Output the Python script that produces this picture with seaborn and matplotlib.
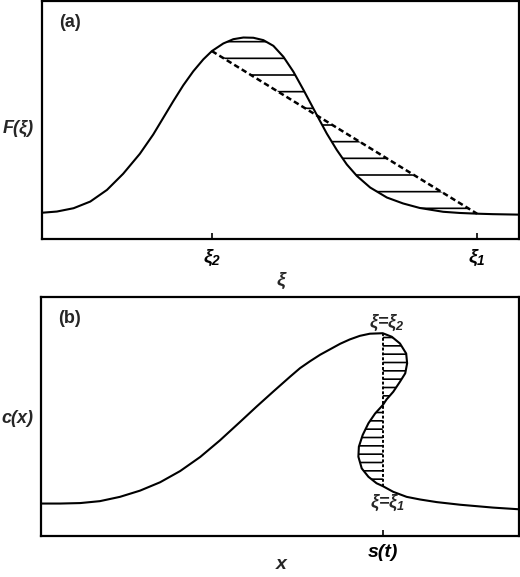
import matplotlib
matplotlib.use("Agg")
import matplotlib.pyplot as plt
import numpy as np
import seaborn as sns

# panel (a): F(xi) curve
xi_vals = [0.0, 0.31, 0.66, 1.01, 1.36, 1.70, 2.05, 2.33, 2.54, 2.75, 2.96, 3.17, 3.38,
           3.56, 3.80, 4.01, 4.22, 4.43, 4.64, 4.85, 5.06, 5.27, 5.48, 5.65, 5.79, 5.97,
           6.18, 6.39, 6.60, 6.88, 7.23, 7.57, 7.92, 8.41, 8.76, 9.12, 9.45, 10.0]
F_vals = [0.110, 0.115, 0.129, 0.157, 0.206, 0.274, 0.358, 0.439, 0.509, 0.579, 0.646,
          0.705, 0.755, 0.790, 0.822, 0.840, 0.847, 0.846, 0.836, 0.812, 0.766, 0.703,
          0.627, 0.563, 0.510, 0.443, 0.374, 0.313, 0.265, 0.216, 0.174, 0.149, 0.130,
          0.114, 0.109, 0.106, 0.104, 0.102]
xi2, xi1 = 3.56, 9.12
F_xi2, F_xi1 = 0.790, 0.106

# panel (b): c(x) S-shaped profile, in drawing order
x_vals = [0.0, 0.40, 0.82, 1.23, 1.65, 2.07, 2.49, 2.91, 3.33, 3.74, 4.16, 4.51, 4.86,
          5.21, 5.42, 5.63, 5.84, 6.05, 6.26, 6.46, 6.67, 6.88, 7.15, 7.34, 7.51, 7.64,
          7.66, 7.62, 7.51, 7.37, 7.23, 7.15, 6.99, 6.85, 6.73, 6.65, 6.64, 6.71, 6.85,
          7.02, 7.15, 7.37, 7.65, 7.93, 8.28, 8.77, 9.46, 10.0]
c_vals = [0.136, 0.136, 0.138, 0.146, 0.164, 0.190, 0.225, 0.272, 0.331, 0.400, 0.477,
          0.542, 0.605, 0.667, 0.703, 0.732, 0.759, 0.782, 0.805, 0.823, 0.838, 0.847,
          0.849, 0.834, 0.806, 0.764, 0.723, 0.681, 0.646, 0.604, 0.572, 0.548, 0.513,
          0.472, 0.423, 0.374, 0.332, 0.283, 0.248, 0.221, 0.209, 0.185, 0.164, 0.153,
          0.142, 0.131, 0.119, 0.112]
s_t = 7.15

sns.set_theme(style="white")
plt.rcParams["font.family"] = ["Liberation Sans", "DejaVu Sans"]
plt.rcParams["font.weight"] = "bold"
plt.rcParams["mathtext.fontset"] = "custom"
plt.rcParams["mathtext.it"] = "Liberation Sans:italic:bold"
plt.rcParams["mathtext.rm"] = "Liberation Sans:italic:bold"
plt.rcParams["hatch.linewidth"] = 1.2
plt.rcParams["hatch.color"] = "black"

FS = 13


def style_axes(ax):
    ax.set_xlim(0, 10)
    ax.set_ylim(0, 1)
    ax.set_yticks([])
    for sp in ax.spines.values():
        sp.set_color("black")
        sp.set_linewidth(1.6)
    ax.tick_params(axis="x", direction="in", length=4, width=1.2, pad=6,
                   labelsize=FS + 1, colors="black", bottom=True)


fig = plt.figure(figsize=(5.2, 5.77), dpi=100)
ax_a = fig.add_axes([0.081, 0.586, 0.917, 0.412])
ax_b = fig.add_axes([0.079, 0.071, 0.919, 0.414])

# ---- (a)
sns.lineplot(x=xi_vals, y=F_vals, ax=ax_a, color="black", linewidth=1.5,
             sort=False, estimator=None)
ax_a.plot([xi2, xi1], [F_xi2, F_xi1], color="black", linewidth=1.8,
          linestyle=(0, (2.2, 1.3)))
xs = np.array(xi_vals)
fv = np.array(F_vals)
seg = (xs >= xi2) & (xs <= xi1)
chord = F_xi2 + (F_xi1 - F_xi2) * (xs[seg] - xi2) / (xi1 - xi2)
ax_a.fill_between(xs[seg], fv[seg], chord, facecolor="none", edgecolor="black",
                  hatch="-", linewidth=0)
style_axes(ax_a)
ax_a.set_xticks([xi2, xi1])
ax_a.set_xticklabels([r"$\xi_2$", r"$\xi_1$"])
ax_a.set_xlabel("ξ", fontsize=FS + 1, fontstyle="italic", fontweight="bold")
ax_a.xaxis.set_label_coords(0.501, -0.14)
ax_a.set_ylabel("F(ξ)", fontsize=FS, fontstyle="italic", fontweight="bold",
                rotation=0, ha="right", va="center")
ax_a.yaxis.set_label_coords(-0.017, 0.466)
ax_a.text(0.059, 0.912, "(a)", transform=ax_a.transAxes, ha="center", va="center",
          fontsize=FS, fontweight="bold")

# ---- (b)
sns.lineplot(x=x_vals, y=c_vals, ax=ax_b, color="black", linewidth=1.5,
             sort=False, estimator=None)
xv = np.array(x_vals)
cv = np.array(c_vals)
on_line = np.where(np.isclose(xv, s_t))[0]
i0, i1 = on_line[0], on_line[-1]
ax_b.fill_betweenx(cv[i0:i1 + 1], xv[i0:i1 + 1], s_t, facecolor="none",
                   edgecolor="black", hatch="--", linewidth=0)
ax_b.plot([s_t, s_t], [cv[i0], cv[i1]], color="black", linewidth=1.4,
          linestyle=(0, (1.5, 1.0)))
style_axes(ax_b)
ax_b.set_xticks([s_t])
ax_b.set_xticklabels(["s(t)"], fontstyle="italic", fontweight="bold")
ax_b.set_xlabel("x", fontsize=FS + 1, fontstyle="italic", fontweight="bold")
ax_b.xaxis.set_label_coords(0.502, -0.085)
ax_b.set_ylabel("c(x)", fontsize=FS, fontstyle="italic", fontweight="bold",
                rotation=0, ha="right", va="center")
ax_b.yaxis.set_label_coords(-0.017, 0.494)
ax_b.text(0.059, 0.912, "(b)", transform=ax_b.transAxes, ha="center", va="center",
          fontsize=FS, fontweight="bold")
ax_b.text(7.24, 0.891, r"ξ=$\xi_2$", ha="center", va="center", fontsize=FS,
          fontstyle="italic", fontweight="bold")
ax_b.text(7.24, 0.138, r"ξ=$\xi_1$", ha="center", va="center", fontsize=FS,
          fontstyle="italic", fontweight="bold")

fig.savefig("out.png", dpi=100)
